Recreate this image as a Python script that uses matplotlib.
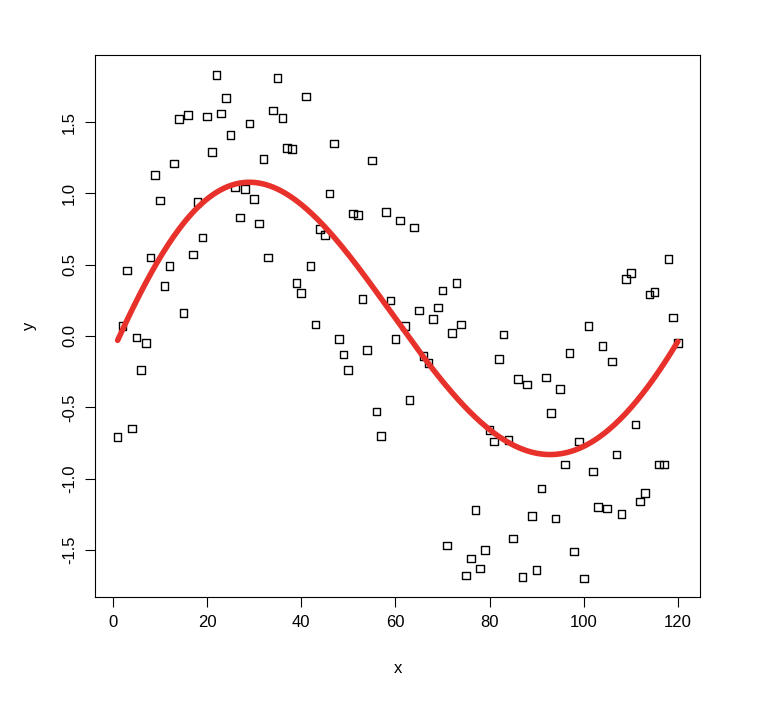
import numpy as np
import matplotlib.pyplot as plt

plt.rcParams['font.family'] = ['Liberation Sans', 'DejaVu Sans']

x = np.arange(1, 121)
y = [-0.71, 0.07, 0.46, -0.65, -0.01, -0.24, -0.05, 0.55, 1.13, 0.95,
     0.35, 0.49, 1.21, 1.52, 0.16, 1.55, 0.57, 0.94, 0.69, 1.54,
     1.29, 1.83, 1.56, 1.67, 1.41, 1.04, 0.83, 1.03, 1.49, 0.96,
     0.79, 1.24, 0.55, 1.58, 1.81, 1.53, 1.32, 1.31, 0.37, 0.30,
     1.68, 0.49, 0.08, 0.75, 0.71, 1.00, 1.35, -0.02, -0.13, -0.24,
     0.86, 0.85, 0.26, -0.10, 1.23, -0.53, -0.70, 0.87, 0.25, -0.02,
     0.81, 0.07, -0.45, 0.76, 0.18, -0.14, -0.19, 0.12, 0.20, 0.32,
     -1.47, 0.02, 0.37, 0.08, -1.68, -1.56, -1.22, -1.63, -1.50, -0.66,
     -0.74, -0.16, 0.01, -0.73, -1.42, -0.30, -1.69, -0.34, -1.26, -1.64,
     -1.07, -0.29, -0.54, -1.28, -0.37, -0.90, -0.12, -1.51, -0.74, -1.70,
     0.07, -0.95, -1.20, -0.07, -1.21, -0.18, -0.83, -1.25, 0.40, 0.44,
     -0.62, -1.16, -1.10, 0.29, 0.31, -0.90, -0.90, 0.54, 0.13, -0.05]

# smooth curve
curve_x = [1, 10, 20, 30, 40, 50, 60, 70, 80, 90, 100, 110, 120]
curve_y = [-0.03, 0.55, 0.95, 1.09, 0.93, 0.55, 0.12, -0.30, -0.65, -0.84, -0.77, -0.50, -0.04]

fig = plt.figure(figsize=(7.68, 7.10), dpi=100)
ax = fig.add_axes([95 / 768, 1 - 597 / 710, 605 / 768, 542 / 710])

ax.scatter(x, y, marker='s', s=30, facecolors='none', edgecolors='black', linewidths=1)
coef = np.polyfit(curve_x, curve_y, 6)
xs = np.linspace(1, 120, 300)
ax.plot(xs, np.polyval(coef, xs), color='#e8312a', lw=4, solid_capstyle='round')

ax.set_xlim(-3.8, 124.7)
ax.set_ylim(-1.83, 1.97)
ax.set_xticks([0, 20, 40, 60, 80, 100, 120])
ax.set_yticks([-1.5, -1.0, -0.5, 0.0, 0.5, 1.0, 1.5])
ax.set_yticklabels(['-1.5', '-1.0', '-0.5', '0.0', '0.5', '1.0', '1.5'], rotation=90, va='center')
ax.tick_params(labelsize=12, length=7, pad=6)
ax.set_xlabel('x', fontsize=12, labelpad=22)
ax.set_ylabel('y', fontsize=12, labelpad=18)

fig.savefig('out.png', dpi=100)
